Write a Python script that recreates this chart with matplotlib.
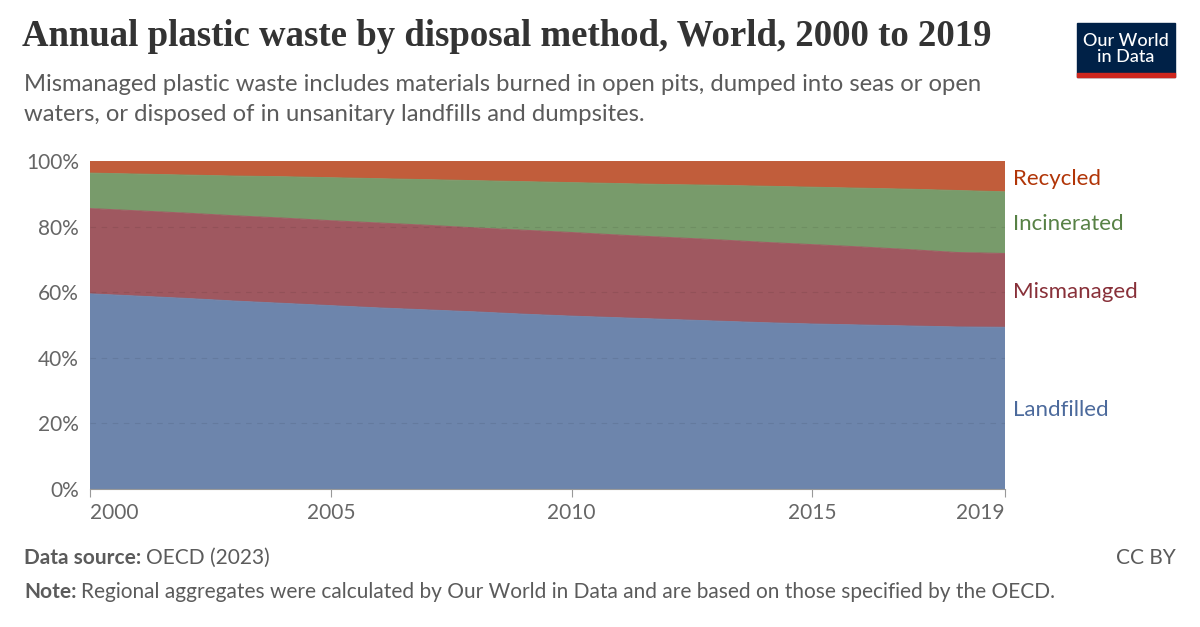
import numpy as np
import matplotlib.pyplot as plt
from matplotlib.patches import Rectangle

years = list(range(2000, 2020))

# shares of total plastic waste, %
landfilled = [59.5, 58.8, 58.1, 57.3, 56.6, 55.9, 55.2, 54.6, 54.0, 53.3,
              52.7, 52.2, 51.7, 51.2, 50.7, 50.3, 50.0, 49.7, 49.4, 49.3]
mismanaged = [26.0, 26.0, 26.0, 26.0, 26.0, 25.9, 25.9, 25.8, 25.6, 25.6,
              25.5, 25.2, 25.0, 24.8, 24.5, 24.2, 23.8, 23.3, 22.7, 22.5]
incinerated = [10.8, 11.2, 11.6, 12.1, 12.6, 13.1, 13.5, 13.9, 14.4, 14.8,
               15.2, 15.7, 16.1, 16.6, 17.1, 17.5, 17.9, 18.4, 18.9, 18.8]
recycled = [3.7, 4.0, 4.3, 4.6, 4.8, 5.1, 5.4, 5.7, 6.0, 6.3,
            6.6, 6.9, 7.2, 7.4, 7.7, 8.0, 8.3, 8.6, 9.0, 9.4]

series_names = ["Landfilled", "Mismanaged", "Incinerated", "Recycled"]
fill_colors = ["#6D85AC", "#9F5860", "#789B6B", "#C15D3B"]
label_colors = ["#4C6A9C", "#883039", "#578145", "#B13507"]
label_y = [24.1, 60.2, 80.7, 94.4]

plt.rcParams["font.family"] = ["Lato", "DejaVu Sans"]

fig = plt.figure(figsize=(12, 6.27), dpi=100)
ax = fig.add_axes([0.075, 0.22, 0.7625, 0.5232])

data = np.array([landfilled, mismanaged, incinerated, recycled])
data = data / data.sum(axis=0) * 100
ax.stackplot(years, data, colors=fill_colors, edgecolor="none")
tops = np.cumsum(data, axis=0)
for i in range(3):
  ax.plot(years, tops[i], color=fill_colors[i], lw=0.8, alpha=0.9)

ax.set_xlim(2000, 2019)
ax.set_ylim(0, 100)
for y in [20, 40, 60, 80]:
  ax.axhline(y, color="#000000", lw=0.8, ls=(0, (5, 5)), alpha=0.08, zorder=5)

ax.set_yticks([0, 20, 40, 60, 80, 100])
ax.set_yticklabels(["0%", "20%", "40%", "60%", "80%", "100%"])
ax.set_xticks([2000, 2005, 2010, 2015, 2019])
ax.set_xticklabels(["2000", "2005", "2010", "2015", "2019"])
ax.tick_params(axis="y", length=0, labelsize=15, labelcolor="#666666", pad=8)
ax.tick_params(axis="x", length=6, color="#999999", labelsize=15,
               labelcolor="#666666", pad=4)
xl = ax.get_xticklabels()
xl[0].set_ha("left")
xl[-1].set_ha("right")
for s in ["top", "right", "left"]:
  ax.spines[s].set_visible(False)
ax.spines["bottom"].set_color("#999999")

for name, c, y in zip(series_names, label_colors, label_y):
  ax.text(2019.16, y, name, color=c, fontsize=16, va="center", ha="left",
          clip_on=False)

fig.text(0.018, 0.927, "Annual plastic waste by disposal method, World, 2000 to 2019",
         family=["Liberation Serif", "DejaVu Serif"], fontsize=26.5,
         weight="bold", color="#333333", va="baseline")
fig.text(0.02, 0.855, "Mismanaged plastic waste includes materials burned in open pits, dumped into seas or open",
         fontsize=17.2, color="#5b5b5b", va="baseline")
fig.text(0.02, 0.807, "waters, or disposed of in unsanitary landfills and dumpsites.",
         fontsize=17.2, color="#5b5b5b", va="baseline")

renderer = fig.canvas.get_renderer()

def footer_line(x, y, bold, rest):
  t = fig.text(x, y, bold, fontsize=15, color="#5b5b5b", va="baseline",
               weight="bold")
  bb = t.get_window_extent(renderer)
  fig.text(bb.x1 / fig.bbox.width + 0.004, y, rest, fontsize=15,
           color="#5b5b5b", va="baseline")

footer_line(0.02, 0.1, "Data source:", "OECD (2023)")
footer_line(0.02, 0.047, "Note:", "Regional aggregates were calculated by Our World in Data and are based on those specified by the OECD.")
fig.text(0.98, 0.1, "CC BY", fontsize=15, color="#5b5b5b", va="baseline",
         ha="right")

# logo
fig.patches.append(Rectangle((1077 / 1200, 1 - 77 / 627), 98 / 1200, 54 / 627,
                             transform=fig.transFigure, color="#002147"))
fig.patches.append(Rectangle((1077 / 1200, 1 - 77 / 627), 98 / 1200, 4 / 627,
                             transform=fig.transFigure, color="#CE261E"))
fig.text(1126 / 1200, 1 - 49 / 627, "Our World\nin Data", color="white",
         fontsize=13, ha="center", va="center", linespacing=1.0,
         weight="medium")

fig.savefig("out.png", dpi=100)
